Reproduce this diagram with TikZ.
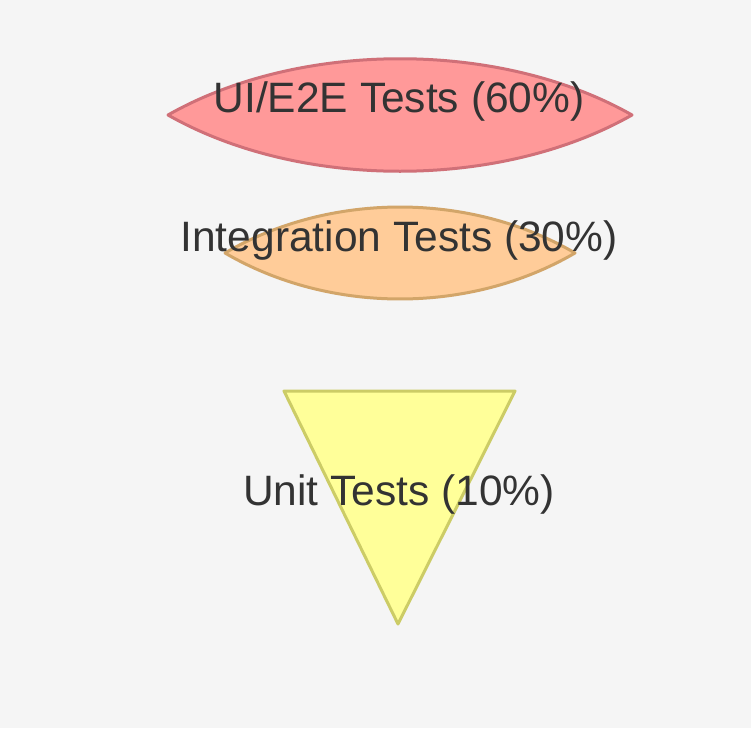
\documentclass[tikz,border=0pt]{standalone}
\usepackage{fontspec}
\setmainfont{Liberation Sans}
\definecolor{bg}{HTML}{F5F5F5}
\definecolor{txt}{HTML}{333333}
\tikzset{lbl/.style={text=txt,font=\fontsize{42.5}{48}\selectfont,inner sep=0pt},
 shp/.style={line width=3pt,line join=round}}
\begin{document}
\begin{tikzpicture}[x=1pt,y=-1pt]
\fill[bg] (0,0) rectangle (751,728);
\useasboundingbox (0,0) rectangle (751,728);
\draw[shp,fill={rgb,255:red,255;green,153;blue,153},draw={rgb,255:red,208;green,112;blue,120}]
 (168,115) .. controls (300,40) and (500,40) .. (632,115) .. controls (500,190) and (300,190) .. (168,115) -- cycle;
\draw[shp,fill={rgb,255:red,255;green,204;blue,153},draw={rgb,255:red,210;green,165;blue,105}]
 (225,253) .. controls (330,191.7) and (470,191.7) .. (575,253) .. controls (470,314.3) and (330,314.3) .. (225,253) -- cycle;
\draw[shp,fill={rgb,255:red,255;green,255;blue,153},draw={rgb,255:red,204;green,204;blue,102}]
 (284,391) -- (515,391) -- (398,624) -- cycle;
\node[lbl] (ui) at (399,101) {UI/E2E Tests (60\%)};
\node[lbl] (it) at (399,241) {Integration Tests (30\%)};
\node[lbl] (un) at (399,494) {Unit Tests (10\%)};
\end{tikzpicture}
\end{document}
